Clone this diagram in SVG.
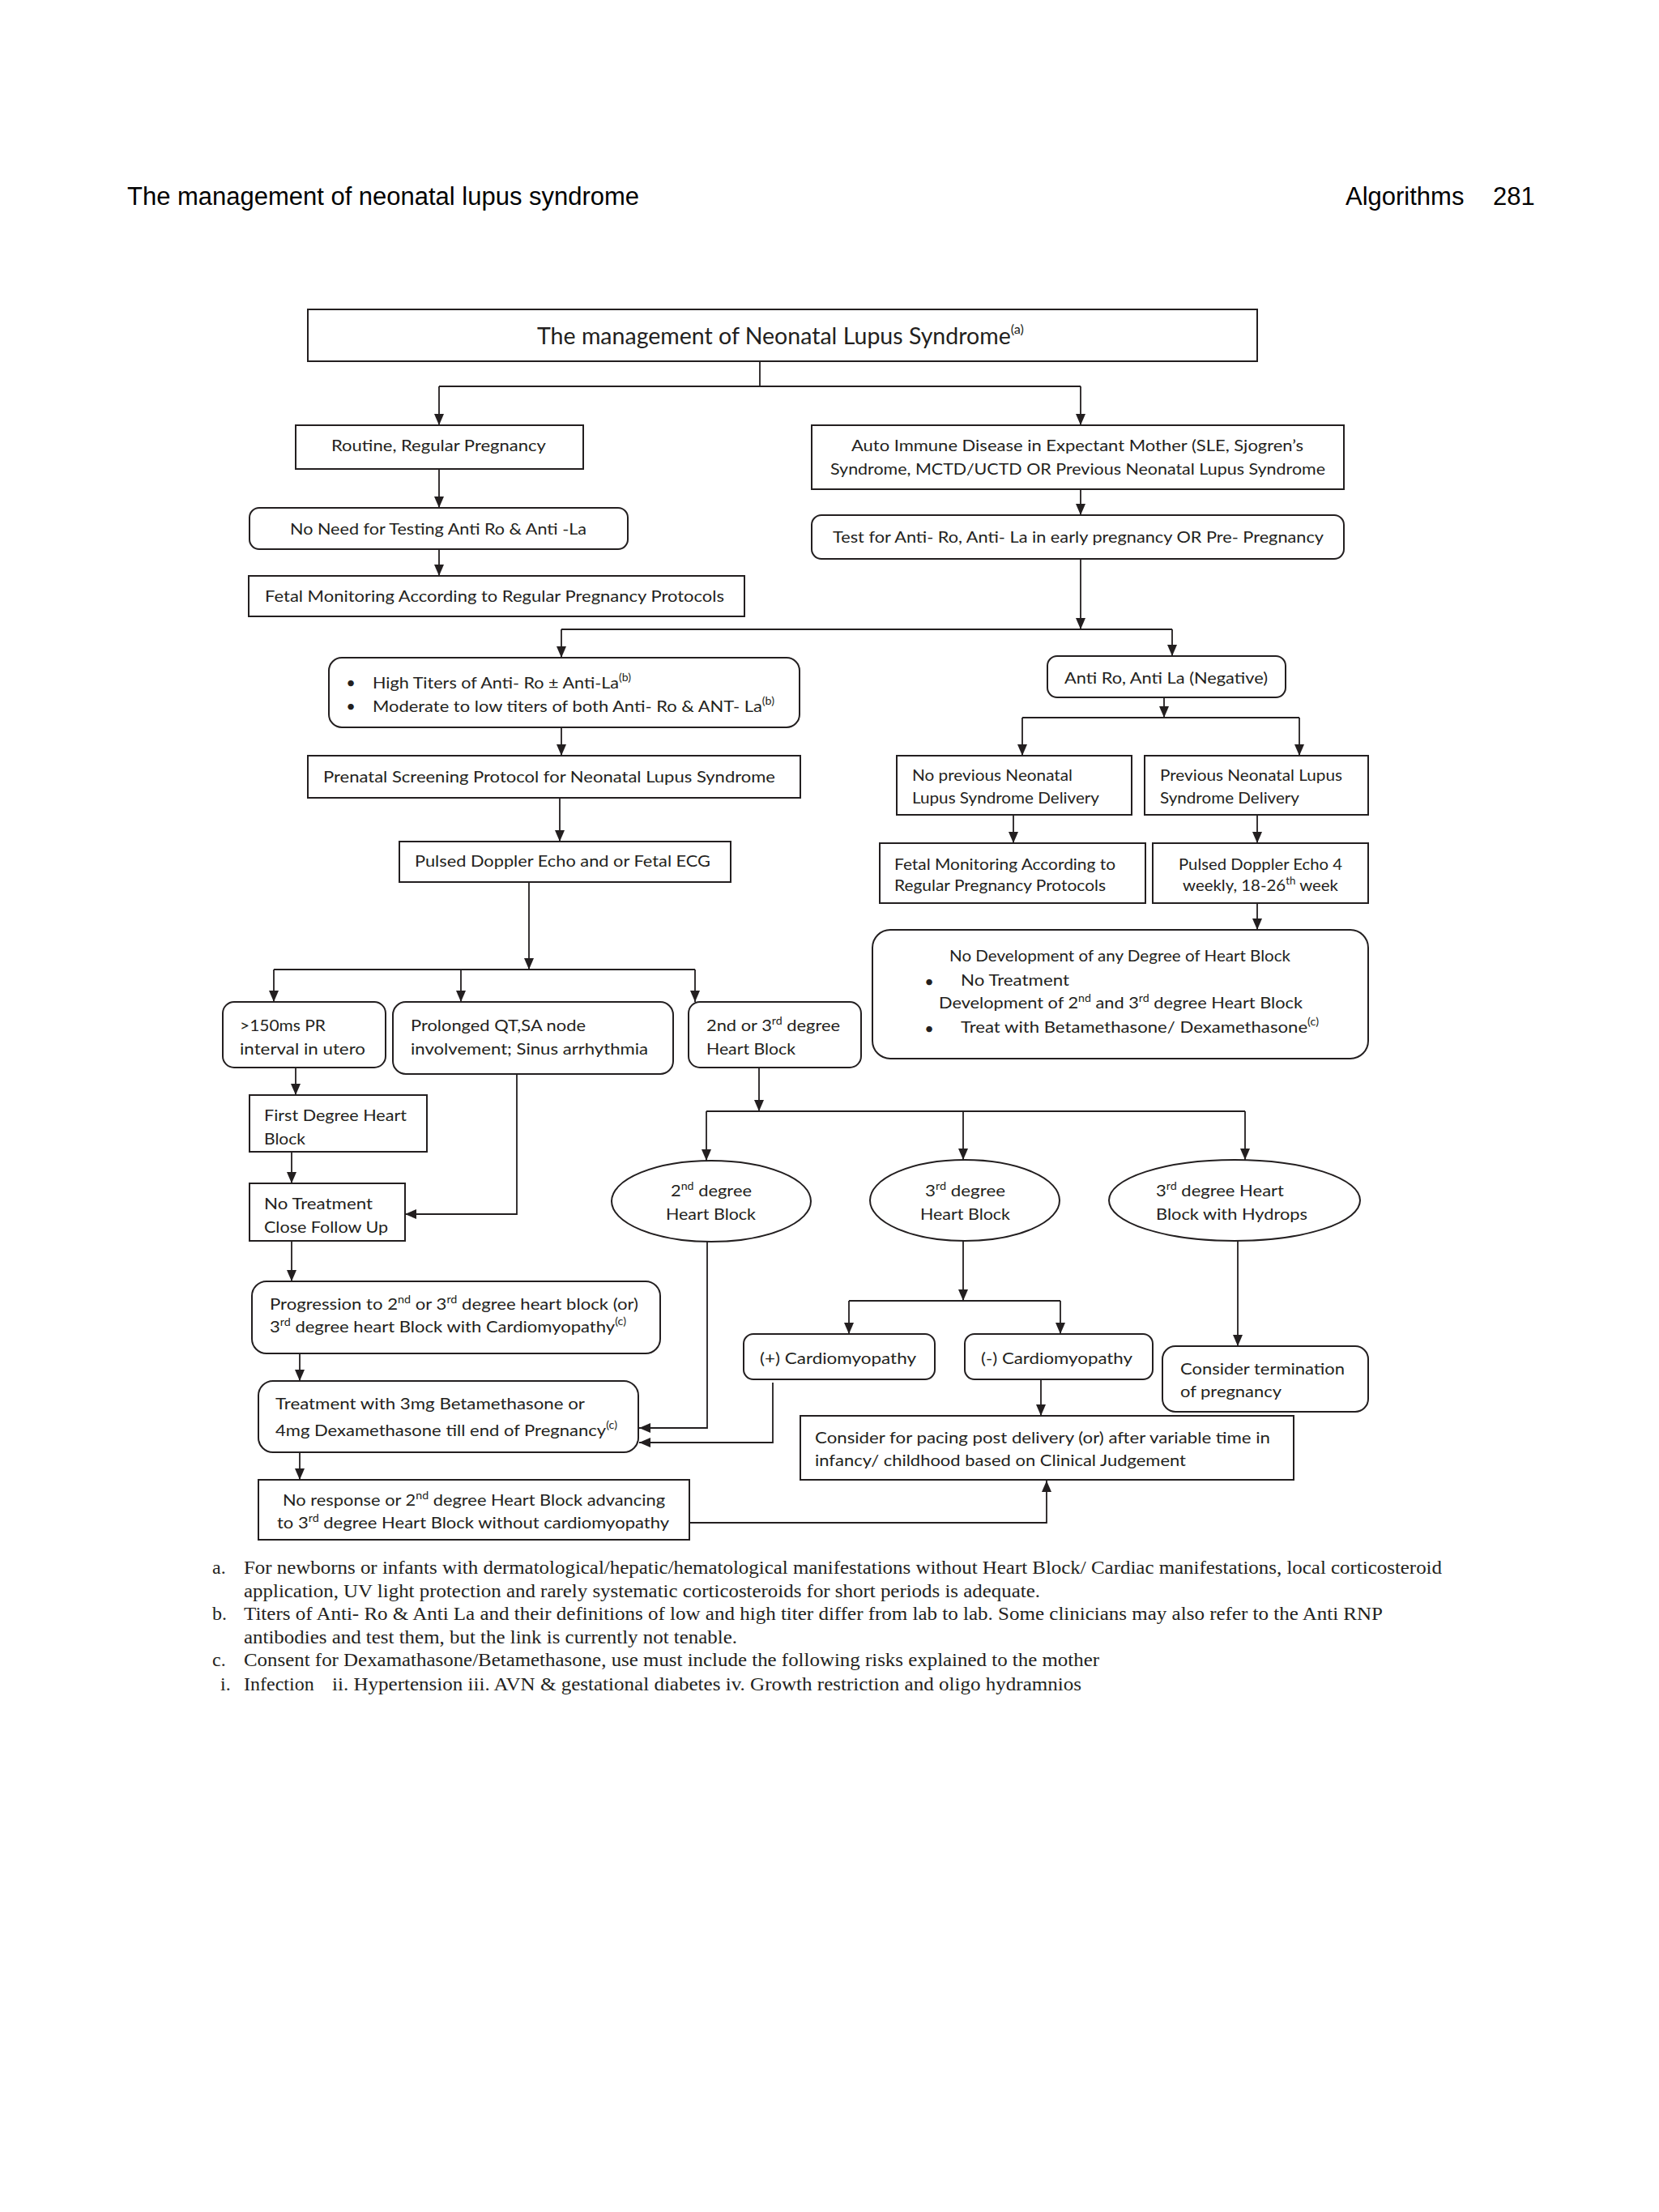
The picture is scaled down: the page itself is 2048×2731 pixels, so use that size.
<svg xmlns="http://www.w3.org/2000/svg" width="2048" height="2731" viewBox="0 0 2048 2731">
<style>
.bx{fill:#fff;stroke:#231f20;stroke-width:2}
.t{font-family:Lato,"Open Sans","Noto Sans",sans-serif;font-size:20px;fill:#231f20}
.tt{font-family:Lato,"Open Sans","Noto Sans",sans-serif;font-size:28px;fill:#231f20}
.hd{font-family:"Liberation Sans",Arial,sans-serif;font-size:31px;fill:#000}
.fn{font-family:"Liberation Serif","Times New Roman",serif;font-size:24px;fill:#231f20}
.c{fill:none;stroke:#231f20;stroke-width:1.8}
.sp{font-size:13px}
</style>
<defs>
<marker id="ah" markerUnits="userSpaceOnUse" markerWidth="14" markerHeight="12" refX="14" refY="6" orient="auto">
<path d="M0,0 L14,6 L0,12 z" fill="#231f20"/>
</marker>
</defs>
<rect width="2048" height="2731" fill="#fff"/>

<g id="header">
<text class="hd" x="157" y="253" textLength="632" lengthAdjust="spacingAndGlyphs">The management of neonatal lupus syndrome</text>
<text class="hd" x="1661" y="253">Algorithms</text>
<text class="hd" x="1843" y="253">281</text>
</g>

<g id="connectors" class="c">
<path d="M938,446 V477"/>
<path d="M542,477 H1334"/>
<path d="M542,477 V525" marker-end="url(#ah)"/>
<path d="M1334,477 V525" marker-end="url(#ah)"/>
<path d="M542,579 V627" marker-end="url(#ah)"/>
<path d="M542,678 V711" marker-end="url(#ah)"/>
<path d="M1334,604 V636" marker-end="url(#ah)"/>
<path d="M1334,690 V777" marker-end="url(#ah)"/>
<path d="M693,777 H1447"/>
<path d="M693,777 V812" marker-end="url(#ah)"/>
<path d="M1447,777 V810" marker-end="url(#ah)"/>
<path d="M693,898 V933" marker-end="url(#ah)"/>
<path d="M691,985 V1039" marker-end="url(#ah)"/>
<path d="M1437,861 V886" marker-end="url(#ah)"/>
<path d="M1262,886 H1604"/>
<path d="M1262,886 V933" marker-end="url(#ah)"/>
<path d="M1604,886 V933" marker-end="url(#ah)"/>
<path d="M1251,1006 V1041" marker-end="url(#ah)"/>
<path d="M1552,1006 V1041" marker-end="url(#ah)"/>
<path d="M1552,1115 V1148" marker-end="url(#ah)"/>
<path d="M653,1089 V1197" marker-end="url(#ah)"/>
<path d="M338,1197 H858"/>
<path d="M338,1197 V1237" marker-end="url(#ah)"/>
<path d="M569,1197 V1237" marker-end="url(#ah)"/>
<path d="M858,1197 V1237" marker-end="url(#ah)"/>
<path d="M365,1318 V1352" marker-end="url(#ah)"/>
<path d="M360,1422 V1461" marker-end="url(#ah)"/>
<path d="M638,1326 V1499 H500" marker-end="url(#ah)"/>
<path d="M360,1532 V1582" marker-end="url(#ah)"/>
<path d="M370,1671 V1705" marker-end="url(#ah)"/>
<path d="M370,1793 V1827" marker-end="url(#ah)"/>
<path d="M937,1318 V1372" marker-end="url(#ah)"/>
<path d="M872,1372 H1537"/>
<path d="M872,1372 V1433" marker-end="url(#ah)"/>
<path d="M1189,1372 V1432" marker-end="url(#ah)"/>
<path d="M1537,1372 V1432" marker-end="url(#ah)"/>
<path d="M873,1533 V1763 H789" marker-end="url(#ah)"/>
<path d="M1189,1532 V1606" marker-end="url(#ah)"/>
<path d="M1048,1606 H1309"/>
<path d="M1048,1606 V1647" marker-end="url(#ah)"/>
<path d="M1309,1606 V1647" marker-end="url(#ah)"/>
<path d="M1528,1532 V1662" marker-end="url(#ah)"/>
<path d="M954,1707 V1781 H789" marker-end="url(#ah)"/>
<path d="M1285,1703 V1748" marker-end="url(#ah)"/>
<path d="M851,1880 H1292 V1828" marker-end="url(#ah)"/>
</g>

<g id="title">
<rect class="bx" x="380" y="382" width="1172" height="64" stroke-width="2.5"/>
<text class="tt" x="663" y="425" textLength="601" lengthAdjust="spacingAndGlyphs">The management of Neonatal Lupus Syndrome<tspan font-size="16" dy="-13">(a)</tspan></text>
</g>

<g id="routine">
<rect class="bx" x="365" y="525" width="355" height="54"/>
<text class="t" x="409" y="557" textLength="265" lengthAdjust="spacingAndGlyphs">Routine, Regular Pregnancy</text>
</g>

<g id="no-need">
<rect class="bx" x="308" y="627" width="467" height="51" rx="12"/>
<text class="t" x="358" y="660" textLength="366" lengthAdjust="spacingAndGlyphs">No Need for Testing Anti Ro &amp; Anti -La</text>
</g>

<g id="fetal-monitoring-1">
<rect class="bx" x="307" y="711" width="612" height="50"/>
<text class="t" x="327" y="743" textLength="567" lengthAdjust="spacingAndGlyphs">Fetal Monitoring According to Regular Pregnancy Protocols</text>
</g>

<g id="autoimmune">
<rect class="bx" x="1002" y="525" width="657" height="79"/>
<text class="t" x="1051" y="557" textLength="558" lengthAdjust="spacingAndGlyphs">Auto Immune Disease in Expectant Mother (SLE, Sjogren’s</text>
<text class="t" x="1025" y="586" textLength="611" lengthAdjust="spacingAndGlyphs">Syndrome, MCTD/UCTD OR Previous Neonatal Lupus Syndrome</text>
</g>

<g id="test">
<rect class="bx" x="1002" y="636" width="657" height="54" rx="12"/>
<text class="t" x="1028" y="670" textLength="606" lengthAdjust="spacingAndGlyphs">Test for Anti- Ro, Anti- La in early pregnancy OR Pre- Pregnancy</text>
</g>

<g id="high-titers">
<rect class="bx" x="406" y="812" width="581" height="86" rx="16"/>
<text class="t" x="433" y="850" text-anchor="middle">•</text>
<text class="t" x="460" y="850" textLength="319" lengthAdjust="spacingAndGlyphs">High Titers of Anti- Ro ± Anti-La<tspan class="sp" dy="-9">(b)</tspan></text>
<text class="t" x="433" y="879" text-anchor="middle">•</text>
<text class="t" x="460" y="879" textLength="496" lengthAdjust="spacingAndGlyphs">Moderate to low titers of both Anti- Ro &amp; ANT- La<tspan class="sp" dy="-9">(b)</tspan></text>
</g>

<g id="prenatal">
<rect class="bx" x="380" y="933" width="608" height="52"/>
<text class="t" x="399" y="966" textLength="558" lengthAdjust="spacingAndGlyphs">Prenatal Screening Protocol for Neonatal Lupus Syndrome</text>
</g>

<g id="pulsed-doppler">
<rect class="bx" x="493" y="1039" width="409" height="50"/>
<text class="t" x="512" y="1070" textLength="365" lengthAdjust="spacingAndGlyphs">Pulsed Doppler Echo and or Fetal ECG</text>
</g>

<g id="anti-negative">
<rect class="bx" x="1293" y="810" width="294" height="51" rx="12"/>
<text class="t" x="1314" y="844" textLength="251" lengthAdjust="spacingAndGlyphs">Anti Ro, Anti La (Negative)</text>
</g>

<g id="no-previous">
<rect class="bx" x="1107" y="933" width="290" height="73"/>
<text class="t" x="1126" y="964" textLength="198" lengthAdjust="spacingAndGlyphs">No previous Neonatal</text>
<text class="t" x="1126" y="992" textLength="231" lengthAdjust="spacingAndGlyphs">Lupus Syndrome Delivery</text>
</g>

<g id="previous">
<rect class="bx" x="1413" y="933" width="276" height="73"/>
<text class="t" x="1432" y="964" textLength="225" lengthAdjust="spacingAndGlyphs">Previous Neonatal Lupus</text>
<text class="t" x="1432" y="992" textLength="172" lengthAdjust="spacingAndGlyphs">Syndrome Delivery</text>
</g>

<g id="fetal-monitoring-2">
<rect class="bx" x="1086" y="1041" width="328" height="74"/>
<text class="t" x="1104" y="1074" textLength="273" lengthAdjust="spacingAndGlyphs">Fetal Monitoring According to</text>
<text class="t" x="1104" y="1100" textLength="261" lengthAdjust="spacingAndGlyphs">Regular Pregnancy Protocols</text>
</g>

<g id="pulsed-doppler-4">
<rect class="bx" x="1423" y="1041" width="266" height="74"/>
<text class="t" x="1455" y="1074" textLength="202" lengthAdjust="spacingAndGlyphs">Pulsed Doppler Echo 4</text>
<text class="t" x="1460" y="1100" textLength="192" lengthAdjust="spacingAndGlyphs">weekly, 18-26<tspan class="sp" dy="-8">th</tspan><tspan dy="8"> week</tspan></text>
</g>

<g id="no-development">
<rect class="bx" x="1077" y="1148" width="612" height="159" rx="22"/>
<text class="t" x="1172" y="1187" textLength="421" lengthAdjust="spacingAndGlyphs">No Development of any Degree of Heart Block</text>
<text class="t" x="1147" y="1219" text-anchor="middle">•</text>
<text class="t" x="1186" y="1217" textLength="134" lengthAdjust="spacingAndGlyphs">No Treatment</text>
<text class="t" x="1159" y="1245" textLength="449" lengthAdjust="spacingAndGlyphs">Development of 2<tspan class="sp" dy="-8">nd</tspan><tspan dy="8"> and 3</tspan><tspan class="sp" dy="-8">rd</tspan><tspan dy="8"> degree Heart Block</tspan></text>
<text class="t" x="1147" y="1277" text-anchor="middle">•</text>
<text class="t" x="1186" y="1275" textLength="442" lengthAdjust="spacingAndGlyphs">Treat with Betamethasone/ Dexamethasone<tspan class="sp" dy="-9">(c)</tspan></text>
</g>

<g id="pr-interval">
<rect class="bx" x="275" y="1237" width="201" height="81" rx="14"/>
<text class="t" x="296" y="1273" textLength="106" lengthAdjust="spacingAndGlyphs">&gt;150ms PR</text>
<text class="t" x="296" y="1302" textLength="155" lengthAdjust="spacingAndGlyphs">interval in utero</text>
</g>

<g id="prolonged-qt">
<rect class="bx" x="485" y="1237" width="346" height="89" rx="16"/>
<text class="t" x="507" y="1273" textLength="216" lengthAdjust="spacingAndGlyphs">Prolonged QT,SA node</text>
<text class="t" x="507" y="1302" textLength="293" lengthAdjust="spacingAndGlyphs">involvement; Sinus arrhythmia</text>
</g>

<g id="second-third-block">
<rect class="bx" x="850" y="1237" width="213" height="81" rx="14"/>
<text class="t" x="872" y="1273" textLength="165" lengthAdjust="spacingAndGlyphs">2nd or 3<tspan class="sp" dy="-8">rd</tspan><tspan dy="8"> degree</tspan></text>
<text class="t" x="872" y="1302" textLength="110" lengthAdjust="spacingAndGlyphs">Heart Block</text>
</g>

<g id="first-degree">
<rect class="bx" x="308" y="1352" width="219" height="70"/>
<text class="t" x="326" y="1384" textLength="176" lengthAdjust="spacingAndGlyphs">First Degree Heart</text>
<text class="t" x="326" y="1413" textLength="51" lengthAdjust="spacingAndGlyphs">Block</text>
</g>

<g id="no-treatment">
<rect class="bx" x="308" y="1461" width="192" height="71"/>
<text class="t" x="326" y="1493" textLength="134" lengthAdjust="spacingAndGlyphs">No Treatment</text>
<text class="t" x="326" y="1522" textLength="153" lengthAdjust="spacingAndGlyphs">Close Follow Up</text>
</g>

<g id="second-degree">
<ellipse class="bx" cx="878" cy="1483" rx="123" ry="50"/>
<text class="t" x="828" y="1477" textLength="100" lengthAdjust="spacingAndGlyphs">2<tspan class="sp" dy="-8">nd</tspan><tspan dy="8"> degree</tspan></text>
<text class="t" x="822" y="1506" textLength="111" lengthAdjust="spacingAndGlyphs">Heart Block</text>
</g>

<g id="third-degree">
<ellipse class="bx" cx="1191" cy="1482" rx="117" ry="50"/>
<text class="t" x="1142" y="1477" textLength="99" lengthAdjust="spacingAndGlyphs">3<tspan class="sp" dy="-8">rd</tspan><tspan dy="8"> degree</tspan></text>
<text class="t" x="1136" y="1506" textLength="111" lengthAdjust="spacingAndGlyphs">Heart Block</text>
</g>

<g id="third-degree-hydrops">
<ellipse class="bx" cx="1524" cy="1482" rx="155" ry="50"/>
<text class="t" x="1427" y="1477" textLength="158" lengthAdjust="spacingAndGlyphs">3<tspan class="sp" dy="-8">rd</tspan><tspan dy="8"> degree Heart</tspan></text>
<text class="t" x="1427" y="1506" textLength="187" lengthAdjust="spacingAndGlyphs">Block with Hydrops</text>
</g>

<g id="plus-cardiomyopathy">
<rect class="bx" x="918" y="1647" width="236" height="56" rx="12"/>
<text class="t" x="938" y="1684" textLength="193" lengthAdjust="spacingAndGlyphs">(+) Cardiomyopathy</text>
</g>

<g id="minus-cardiomyopathy">
<rect class="bx" x="1191" y="1647" width="232" height="56" rx="12"/>
<text class="t" x="1211" y="1684" textLength="187" lengthAdjust="spacingAndGlyphs">(-) Cardiomyopathy</text>
</g>

<g id="termination">
<rect class="bx" x="1435" y="1662" width="254" height="81" rx="16"/>
<text class="t" x="1457" y="1697" textLength="203" lengthAdjust="spacingAndGlyphs">Consider termination</text>
<text class="t" x="1457" y="1725" textLength="125" lengthAdjust="spacingAndGlyphs">of pregnancy</text>
</g>

<g id="pacing">
<rect class="bx" x="988" y="1748" width="609" height="79"/>
<text class="t" x="1006" y="1782" textLength="562" lengthAdjust="spacingAndGlyphs">Consider for pacing post delivery (or) after variable time in</text>
<text class="t" x="1006" y="1810" textLength="458" lengthAdjust="spacingAndGlyphs">infancy/ childhood based on Clinical Judgement</text>
</g>

<g id="progression">
<rect class="bx" x="311" y="1582" width="504" height="89" rx="18"/>
<text class="t" x="333" y="1617" textLength="455" lengthAdjust="spacingAndGlyphs">Progression to 2<tspan class="sp" dy="-8">nd</tspan><tspan dy="8"> or 3</tspan><tspan class="sp" dy="-8">rd</tspan><tspan dy="8"> degree heart block (or)</tspan></text>
<text class="t" x="333" y="1645" textLength="440" lengthAdjust="spacingAndGlyphs">3<tspan class="sp" dy="-8">rd</tspan><tspan dy="8"> degree heart Block with Cardiomyopathy</tspan><tspan class="sp" dy="-9">(c)</tspan></text>
</g>

<g id="treatment">
<rect class="bx" x="319" y="1705" width="469" height="88" rx="18"/>
<text class="t" x="340" y="1740" textLength="382" lengthAdjust="spacingAndGlyphs">Treatment with 3mg Betamethasone or</text>
<text class="t" x="340" y="1773" textLength="422" lengthAdjust="spacingAndGlyphs">4mg Dexamethasone till end of Pregnancy<tspan class="sp" dy="-9">(c)</tspan></text>
</g>

<g id="no-response">
<rect class="bx" x="319" y="1827" width="532" height="74"/>
<text class="t" x="349" y="1859" textLength="472" lengthAdjust="spacingAndGlyphs">No response or 2<tspan class="sp" dy="-8">nd</tspan><tspan dy="8"> degree Heart Block advancing</tspan></text>
<text class="t" x="342" y="1887" textLength="484" lengthAdjust="spacingAndGlyphs">to 3<tspan class="sp" dy="-8">rd</tspan><tspan dy="8"> degree Heart Block without cardiomyopathy</tspan></text>
</g>

<g id="footnotes">
<text class="fn" x="262" y="1943">a.</text>
<text class="fn" x="301" y="1943" textLength="1479" lengthAdjust="spacingAndGlyphs">For newborns or infants with dermatological/hepatic/hematological manifestations without Heart Block/ Cardiac manifestations, local corticosteroid</text>
<text class="fn" x="301" y="1972" textLength="983" lengthAdjust="spacingAndGlyphs">application, UV light protection and rarely systematic corticosteroids for short periods is adequate.</text>
<text class="fn" x="262" y="2000">b.</text>
<text class="fn" x="301" y="2000" textLength="1406" lengthAdjust="spacingAndGlyphs">Titers of Anti- Ro &amp; Anti La and their definitions of low and high titer differ from lab to lab. Some clinicians may also refer to the Anti RNP</text>
<text class="fn" x="301" y="2029" textLength="609" lengthAdjust="spacingAndGlyphs">antibodies and test them, but the link is currently not tenable.</text>
<text class="fn" x="262" y="2057">c.</text>
<text class="fn" x="301" y="2057" textLength="1056" lengthAdjust="spacingAndGlyphs">Consent for Dexamathasone/Betamethasone, use must include the following risks explained to the mother</text>
<text class="fn" x="272" y="2087">i.</text>
<text class="fn" x="301" y="2087">Infection</text>
<text class="fn" x="410" y="2087" textLength="925" lengthAdjust="spacingAndGlyphs">ii. Hypertension iii. AVN &amp; gestational diabetes iv. Growth restriction and oligo hydramnios</text>
</g>
</svg>
